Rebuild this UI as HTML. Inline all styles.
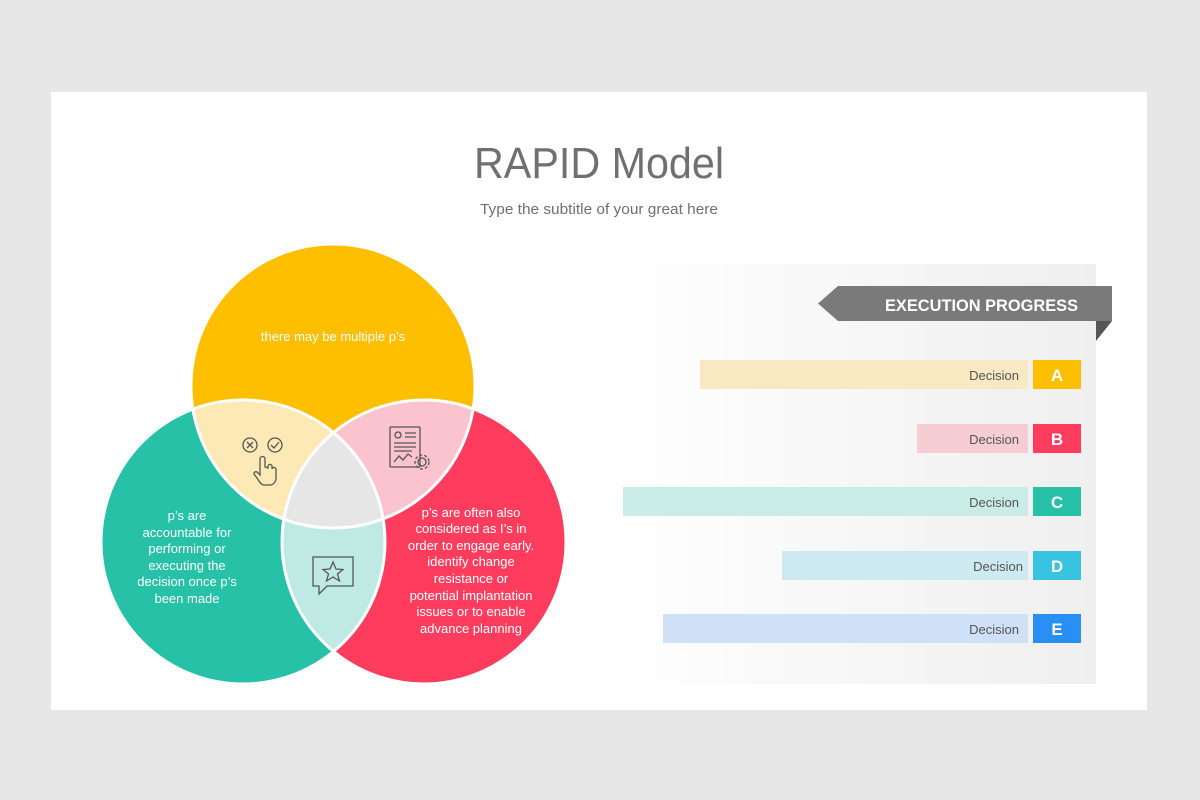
<!DOCTYPE html>
<html><head><meta charset="utf-8"><style>
html,body{margin:0;padding:0;background:#e8e7e8;}
svg{display:block;font-family:"Liberation Sans",sans-serif;}
</style></head><body>
<svg width="1200" height="800" viewBox="0 0 1200 800" xmlns="http://www.w3.org/2000/svg">
<defs>
<linearGradient id="pg" x1="0" x2="1" y1="0" y2="0"><stop offset="0" stop-color="#ffffff"/><stop offset="1" stop-color="#efefef"/></linearGradient>
<clipPath id="cy"><circle cx="333" cy="386" r="142"/></clipPath>
<clipPath id="ct"><circle cx="243" cy="542" r="142"/></clipPath>
<clipPath id="cr"><circle cx="424" cy="542" r="142"/></clipPath>
</defs>
<rect x="0" y="0" width="1200" height="800" fill="#e8e7e8"/>
<rect x="51" y="92" width="1096" height="618" fill="#ffffff"/>
<text x="599" y="178" text-anchor="middle" font-size="44" fill="#707070" textLength="250" lengthAdjust="spacingAndGlyphs">RAPID Model</text>
<text x="599" y="214" text-anchor="middle" font-size="15" fill="#707070" textLength="238" lengthAdjust="spacingAndGlyphs">Type the subtitle of your great here</text>

<!-- Venn -->
<circle cx="333" cy="386" r="142" fill="#fdbf00"/>
<circle cx="243" cy="542" r="142" fill="#27c1a8"/>
<circle cx="424" cy="542" r="142" fill="#fe3d5e"/>
<g clip-path="url(#cy)"><circle cx="243" cy="542" r="142" fill="#fde9b5"/></g>
<g clip-path="url(#cy)"><circle cx="424" cy="542" r="142" fill="#fbc3cd"/></g>
<g clip-path="url(#ct)"><circle cx="424" cy="542" r="142" fill="#bfeae3"/></g>
<g clip-path="url(#cy)"><g clip-path="url(#ct)"><circle cx="424" cy="542" r="142" fill="#e6e6e6"/></g></g>
<g fill="none" stroke="#ffffff" stroke-width="3">
<circle cx="333" cy="386" r="142"/><circle cx="243" cy="542" r="142"/><circle cx="424" cy="542" r="142"/>
</g>
<text x="333" y="341" text-anchor="middle" font-size="13" fill="#fff">there may be multiple p’s</text>
<g font-size="13" fill="#fff" text-anchor="middle">
<text x="187" y="520">p’s are</text><text x="187" y="537">accountable for</text><text x="187" y="553">performing or</text><text x="187" y="570">executing the</text><text x="187" y="586">decision once p’s</text><text x="187" y="603">been made</text>
<text x="471" y="517">p’s are often also</text><text x="471" y="533">considered as I’s in</text><text x="471" y="550">order to engage early.</text><text x="471" y="566">identify change</text><text x="471" y="583">resistance or</text><text x="471" y="600">potential implantation</text><text x="471" y="616">issues or to enable</text><text x="471" y="633">advance planning</text>
</g>
<!-- icons -->
<g fill="none" stroke="#555" stroke-width="1.3">
<circle cx="250" cy="445" r="7"/><path d="M247 442l6 6M253 442l-6 6"/>
<circle cx="275" cy="445" r="7"/><path d="M271 445l3 3 5-6"/>
<path d="M260 475v-16a2.5 2.5 0 0 1 5 0v8l3 1v-2a2 2 0 0 1 4 1v2a2 2 0 0 1 4 1v8c0 4-3 7-6 7h-6c-3 0-5-4-7-7l-3-4a2 2 0 0 1 3-2z"/>
<rect x="390" y="427" width="30" height="40" rx="1"/>
<circle cx="398" cy="435" r="3"/><path d="M405 433h11M405 437h11M394 443h22M394 447h22M394 451h18"/>
<path d="M394 462l5-6 4 4 5-6 4 3"/>
<circle cx="422" cy="462" r="4"/><circle cx="422" cy="462" r="7" stroke-dasharray="3 2"/>
<path d="M313 557h40v29h-26l-8 8v-8h-6z"/>
<path d="M333 562l3 7 7 .5-5.5 4.5 2 7-6.5-4-6.5 4 2-7-5.5-4.5 7-.5z"/>
</g>

<!-- right panel -->
<rect x="612" y="264" width="484" height="420" fill="url(#pg)"/>
<polygon points="1096,321 1112,321 1096,341" fill="#555"/>
<polygon points="838,286 1112,286 1112,321 838,321 818,303.5" fill="#7a7a7a"/>
<text x="1078" y="311" text-anchor="end" font-size="17" font-weight="bold" fill="#fff" textLength="193" lengthAdjust="spacingAndGlyphs">EXECUTION PROGRESS</text>

<g font-size="13" fill="#555" text-anchor="end">
<rect x="700" y="360" width="328" height="29" fill="#f8e9c2"/><text x="1019" y="380">Decision</text>
<rect x="917" y="424" width="111" height="29" fill="#f6cdd3"/><text x="1019" y="444">Decision</text>
<rect x="623" y="487" width="405" height="29" fill="#caece6"/><text x="1019" y="507">Decision</text>
<rect x="782" y="551" width="246" height="29" fill="#cceaef"/><text x="1023" y="571">Decision</text>
<rect x="663" y="614" width="365" height="29" fill="#cfe1f7"/><text x="1019" y="634">Decision</text>
</g>
<g font-size="17" font-weight="bold" fill="#fff" text-anchor="middle">
<rect x="1033" y="360" width="48" height="29" fill="#fdbf00"/><text x="1057" y="381">A</text>
<rect x="1033" y="424" width="48" height="29" fill="#fe3d5e"/><text x="1057" y="445">B</text>
<rect x="1033" y="487" width="48" height="29" fill="#27c1a8"/><text x="1057" y="508">C</text>
<rect x="1033" y="551" width="48" height="29" fill="#38c3e0"/><text x="1057" y="572">D</text>
<rect x="1033" y="614" width="48" height="29" fill="#2a8ff5"/><text x="1057" y="635">E</text>
</g>
</svg>
</body></html>
